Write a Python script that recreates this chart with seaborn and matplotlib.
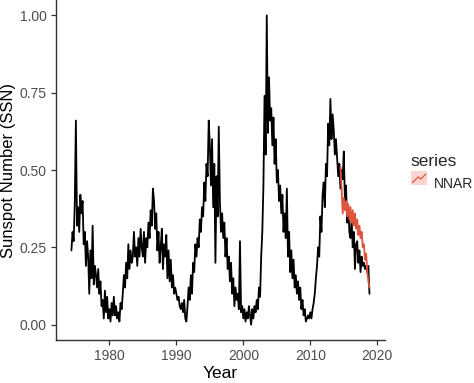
import numpy as np
import pandas as pd
import matplotlib
matplotlib.use("Agg")
import matplotlib.pyplot as plt
import seaborn as sns
from matplotlib.patches import Rectangle
from matplotlib.lines import Line2D

# Observed sunspot number (normalised), 6 samples per year
ssn_start = 1974.33
ssn_values = [
    0.24, 0.30, 0.27, 0.39,                      # 1974
    0.66, 0.32, 0.38, 0.30, 0.42, 0.36,          # 1975
    0.40, 0.26, 0.30, 0.19, 0.27, 0.22,          # 1976
    0.10, 0.24, 0.15, 0.32, 0.13, 0.19,          # 1977
    0.16, 0.12, 0.18, 0.10, 0.14, 0.06,          # 1978
    0.08, 0.02, 0.11, 0.04, 0.09, 0.02,          # 1979
    0.05, 0.01, 0.07, 0.03, 0.09, 0.03,          # 1980
    0.06, 0.02, 0.04, 0.01, 0.07, 0.05,          # 1981
    0.10, 0.16, 0.12, 0.20, 0.15, 0.26,          # 1982
    0.18, 0.24, 0.20, 0.22, 0.30, 0.22,          # 1983
    0.25, 0.19, 0.28, 0.22, 0.31, 0.25,          # 1984
    0.22, 0.30, 0.20, 0.28, 0.25, 0.33,          # 1985
    0.28, 0.37, 0.32, 0.44, 0.40, 0.31,          # 1986
    0.36, 0.24, 0.30, 0.20, 0.25, 0.31,          # 1987
    0.18, 0.26, 0.22, 0.29, 0.15, 0.24,          # 1988
    0.14, 0.21, 0.12, 0.16, 0.10, 0.12,          # 1989
    0.10, 0.08, 0.09, 0.06, 0.05, 0.07,          # 1990
    0.04, 0.08, 0.02, 0.01, 0.06, 0.12,          # 1991
    0.08, 0.16, 0.10, 0.20, 0.17, 0.26,          # 1992
    0.22, 0.28, 0.25, 0.34, 0.30, 0.38,          # 1993
    0.35, 0.46, 0.40, 0.52, 0.48, 0.66,          # 1994
    0.58, 0.45, 0.60, 0.38, 0.52, 0.20,          # 1995
    0.48, 0.35, 0.64, 0.40, 0.30, 0.36,          # 1996
    0.28, 0.33, 0.22, 0.28, 0.18, 0.22,          # 1997
    0.14, 0.20, 0.10, 0.15, 0.06, 0.12,          # 1998
    0.08, 0.10, 0.05, 0.27, 0.04, 0.06,          # 1999
    0.02, 0.05, 0.01, 0.04, 0.02, 0.06,          # 2000
    0.03, 0.00, 0.05, 0.02, 0.06, 0.04,          # 2001
    0.08, 0.05, 0.12, 0.09, 0.22, 0.30,          # 2002
    0.45, 0.74, 0.55, 1.00, 0.62, 0.80,          # 2003
    0.66, 0.70, 0.58, 0.67, 0.52, 0.60,          # 2004
    0.46, 0.50, 0.40, 0.45, 0.36, 0.42,          # 2005
    0.30, 0.36, 0.28, 0.44, 0.22, 0.30,          # 2006
    0.17, 0.24, 0.15, 0.21, 0.12, 0.16,          # 2007
    0.10, 0.14, 0.08, 0.12, 0.05, 0.08,          # 2008
    0.03, 0.05, 0.01, 0.02, 0.03, 0.02,          # 2009
    0.04, 0.02, 0.05, 0.07, 0.10, 0.15,          # 2010
    0.19, 0.25, 0.22, 0.35, 0.30, 0.42,          # 2011
    0.46, 0.38, 0.52, 0.48, 0.65, 0.58,          # 2012
    0.73, 0.60, 0.68, 0.63, 0.55, 0.60,          # 2013
    0.54, 0.48, 0.52, 0.44, 0.50, 0.47,          # 2014
    0.56, 0.40, 0.45, 0.33, 0.38, 0.30,          # 2015
    0.28, 0.34, 0.25, 0.30, 0.18, 0.26,          # 2016
    0.27, 0.20, 0.24, 0.17, 0.22, 0.19,          # 2017
    0.20, 0.18, 0.19, 0.17, 0.19, 0.10,          # 2018
]

# NNAR forecast, 6 samples per year
nnar_start = 2014.5
nnar_values = [
    0.51, 0.44, 0.36,
    0.41, 0.37, 0.40, 0.35, 0.39, 0.34,
    0.38, 0.33, 0.37, 0.32, 0.36, 0.31,
    0.34, 0.29, 0.32, 0.28, 0.30, 0.25,
    0.26, 0.21, 0.23, 0.17, 0.14, 0.12,
]

x_ticks = [1980, 1990, 2000, 2010, 2020]
y_ticks = [0.00, 0.25, 0.50, 0.75, 1.00]

ssn_df = pd.DataFrame({
    "Year": ssn_start + np.arange(len(ssn_values)) / 6.0,
    "SSN": ssn_values,
})
nnar_df = pd.DataFrame({
    "Year": nnar_start + np.arange(len(nnar_values)) / 6.0,
    "SSN": nnar_values,
    "series": "NNAR",
})

sns.set_theme(style="ticks")
plt.rcParams["font.family"] = ["Liberation Sans", "DejaVu Sans"]

fig = plt.figure(figsize=(4.74, 3.83), dpi=100)
ax = fig.add_axes([0.118, 0.112, 0.694, 0.888])

red = "#E0533C"
sns.lineplot(data=ssn_df, x="Year", y="SSN", ax=ax, color="black",
             linewidth=1.3, legend=False)
sns.lineplot(data=nnar_df, x="Year", y="SSN", ax=ax, color=red,
             linewidth=1.3, legend=False)

xmin, xmax = 1974.25, 2018.9
xr = xmax - xmin
ax.set_xlim(xmin - 0.05 * xr, xmax + 0.05 * xr)
ax.set_ylim(-0.05, 1.05)
ax.set_xticks(x_ticks)
ax.set_yticks(y_ticks)
ax.set_yticklabels([f"{v:.2f}" for v in y_ticks])

for s in ["top", "right"]:
    ax.spines[s].set_visible(False)
for s in ["left", "bottom"]:
    ax.spines[s].set_color("#333333")
    ax.spines[s].set_linewidth(1.0)
ax.tick_params(axis="both", colors="#333333", labelcolor="#4D4D4D",
               labelsize=10, length=3.5, width=0.9, pad=3)
ax.set_xlabel("Year", fontsize=12.5, color="black", labelpad=2)
ax.set_ylabel("Sunspot Number (SSN)", fontsize=12, color="black", labelpad=3)


class KeyHandler:
    """ggplot-like key: translucent fill with a small zigzag line."""
    def legend_artist(self, legend, orig_handle, fontsize, handlebox):
        x0, y0 = handlebox.xdescent, handlebox.ydescent
        w, h = handlebox.width, handlebox.height
        rect = Rectangle((x0, y0), w, h, facecolor="#F8766D", alpha=0.3,
                         edgecolor="none", transform=handlebox.get_transform())
        line = Line2D([x0 + 0.1 * w, x0 + 0.45 * w, x0 + 0.6 * w, x0 + 0.9 * w],
                      [y0 + 0.2 * h, y0 + 0.6 * h, y0 + 0.45 * h, y0 + 0.8 * h],
                      color=red, linewidth=0.9,
                      transform=handlebox.get_transform())
        handlebox.add_artist(rect)
        handlebox.add_artist(line)
        return rect


key = Line2D([0], [0], color=red)
leg = fig.legend([key], ["NNAR"], title="series",
                 handler_map={Line2D: KeyHandler()},
                 loc="upper left", bbox_to_anchor=(0.855, 0.612),
                 frameon=False, fontsize=10, title_fontsize=12.5,
                 handlelength=1.2, handleheight=1.2, handletextpad=0.45,
                 borderaxespad=0)
leg._legend_box.align = "left"

fig.savefig("out.png", dpi=100)
